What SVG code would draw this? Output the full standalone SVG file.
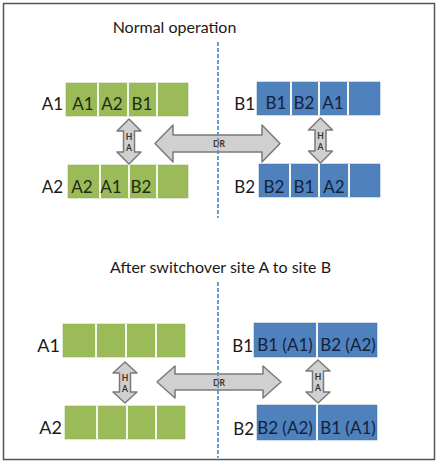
<svg xmlns="http://www.w3.org/2000/svg" width="440" height="463" viewBox="0 0 440 463">
<style>
text{font-family:Lato,"Liberation Sans",sans-serif}
.title{font-size:16px;fill:#1a1a1a;text-anchor:middle}
.lbl{font-size:17px;fill:#1a1a1a;text-anchor:end}
.gt{font-size:17px;fill:#1f2a14;text-anchor:middle}
.bt{font-size:17px;fill:#14213d;text-anchor:middle}
.g{fill:#9bbb59;stroke:#8aa84c;stroke-width:0.5}
.b{fill:#4f81bd;stroke:#46739f;stroke-width:0.5}
.div{stroke:#f4f8ec;stroke-width:2}
.arr{fill:#d0d0d0;stroke:#7a7a7a;stroke-width:1.5;stroke-linejoin:round}
.at{font-size:8.5px;font-weight:bold;fill:#333;text-anchor:middle}
.dash{stroke:#5b93c9;stroke-width:2;stroke-dasharray:4 2;fill:none}
</style>
<rect x="3.5" y="3.5" width="431" height="456" fill="#fff" stroke="#555" stroke-width="1.5"/>
<text class="title" x="174.5" y="33">Normal operation</text>
<text class="title" x="220.5" y="273">After switchover site A to site B</text>
<g id="connectors">
<path class="arr" d="M155,143.5 L173,125 L173,135 L262,135 L262,125 L280,143.5 L262,162 L262,152 L173,152 L173,162 Z"/>
<text class="at" x="219" y="147">DR</text>
<path class="arr" d="M129,119 L141,131 L134.5,131 L134.5,152 L141,152 L129,164 L117,152 L123.5,152 L123.5,131 L117,131 Z"/>
<text class="at" x="129" y="140">H</text><text class="at" x="129" y="151">A</text>
<path class="arr" d="M320.5,118 L332.5,130 L326,130 L326,151 L332.5,151 L320.5,163 L308.5,151 L315,151 L315,130 L308.5,130 Z"/>
<text class="at" x="320.5" y="139">H</text><text class="at" x="320.5" y="150">A</text>
<path class="arr" d="M157,382 L175,366 L175,374 L263,374 L263,366 L281,382 L263,398 L263,390 L175,390 L175,398 Z"/>
<text class="at" x="219" y="385.5">DR</text>
<path class="arr" d="M125,362 L137,373 L130.5,373 L130.5,392 L137,392 L125,403 L113,392 L119.5,392 L119.5,373 L113,373 Z"/>
<text class="at" x="125" y="381">H</text><text class="at" x="125" y="392">A</text>
<path class="arr" d="M318,360 L330,371 L323.5,371 L323.5,392 L330,392 L318,403 L306,392 L312.5,392 L312.5,371 L306,371 Z"/>
<text class="at" x="318" y="380">H</text><text class="at" x="318" y="391">A</text>
<line class="dash" x1="218" y1="42" x2="218" y2="218" opacity="0.9"/>
<line class="dash" x1="218" y1="282" x2="218" y2="458" opacity="0.9"/>
</g>
<g id="top-A1">
<rect class="g" x="66" y="83" width="122" height="33"/>
<line class="div" x1="98" y1="83" x2="98" y2="116"/><line class="div" x1="128" y1="83" x2="128" y2="116"/><line class="div" x1="157" y1="83" x2="157" y2="116"/>
<text class="lbl" x="63" y="110">A1</text>
<text class="gt" x="83" y="110">A1</text><text class="gt" x="112" y="110">A2</text><text class="gt" x="142" y="110">B1</text>
</g>
<g id="top-A2">
<rect class="g" x="68" y="165" width="120" height="33"/>
<line class="div" x1="100" y1="165" x2="100" y2="198"/><line class="div" x1="129" y1="165" x2="129" y2="198"/><line class="div" x1="157" y1="165" x2="157" y2="198"/>
<text class="lbl" x="63" y="193">A2</text>
<text class="gt" x="82" y="193">A2</text><text class="gt" x="111" y="193">A1</text><text class="gt" x="141" y="193">B2</text>
</g>
<g id="top-B1">
<rect class="b" x="257" y="82" width="123" height="33"/>
<line class="div" x1="291" y1="82" x2="291" y2="115"/><line class="div" x1="319" y1="82" x2="319" y2="115"/><line class="div" x1="348" y1="82" x2="348" y2="115"/>
<text class="lbl" x="255" y="110">B1</text>
<text class="bt" x="276" y="109">B1</text><text class="bt" x="304" y="109">B2</text><text class="bt" x="333" y="109">A1</text>
</g>
<g id="top-B2">
<rect class="b" x="259" y="164" width="121" height="33"/>
<line class="div" x1="290" y1="164" x2="290" y2="197"/><line class="div" x1="319" y1="164" x2="319" y2="197"/><line class="div" x1="349" y1="164" x2="349" y2="197"/>
<text class="lbl" x="255" y="193">B2</text>
<text class="bt" x="274" y="193">B2</text><text class="bt" x="304" y="193">B1</text><text class="bt" x="334" y="193">A2</text>
</g>
<g id="bottom-A1">
<rect class="g" x="63" y="324" width="122" height="33"/>
<line class="div" x1="96" y1="324" x2="96" y2="357"/><line class="div" x1="126" y1="324" x2="126" y2="357"/><line class="div" x1="156" y1="324" x2="156" y2="357"/>
<text class="lbl" x="60" y="352" style="font-size:18px">A1</text>
</g>
<g id="bottom-A2">
<rect class="g" x="65" y="406" width="120" height="33"/>
<line class="div" x1="97" y1="406" x2="97" y2="439"/><line class="div" x1="127" y1="406" x2="127" y2="439"/><line class="div" x1="156" y1="406" x2="156" y2="439"/>
<text class="lbl" x="62" y="434" style="font-size:18px">A2</text>
</g>
<g id="bottom-B1">
<rect class="b" x="254" y="323" width="123" height="34"/>
<line class="div" x1="317" y1="321" x2="317" y2="359"/>
<text class="lbl" x="253" y="352">B1</text>
<text class="bt" x="285" y="351">B1 (A1)</text><text class="bt" x="348" y="351">B2 (A2)</text>
</g>
<g id="bottom-B2">
<rect class="b" x="257" y="405" width="120" height="35"/>
<line class="div" x1="317" y1="403" x2="317" y2="442"/>
<text class="lbl" x="254" y="435">B2</text>
<text class="bt" x="285" y="434">B2 (A2)</text><text class="bt" x="348" y="434">B1 (A1)</text>
</g>
</svg>
